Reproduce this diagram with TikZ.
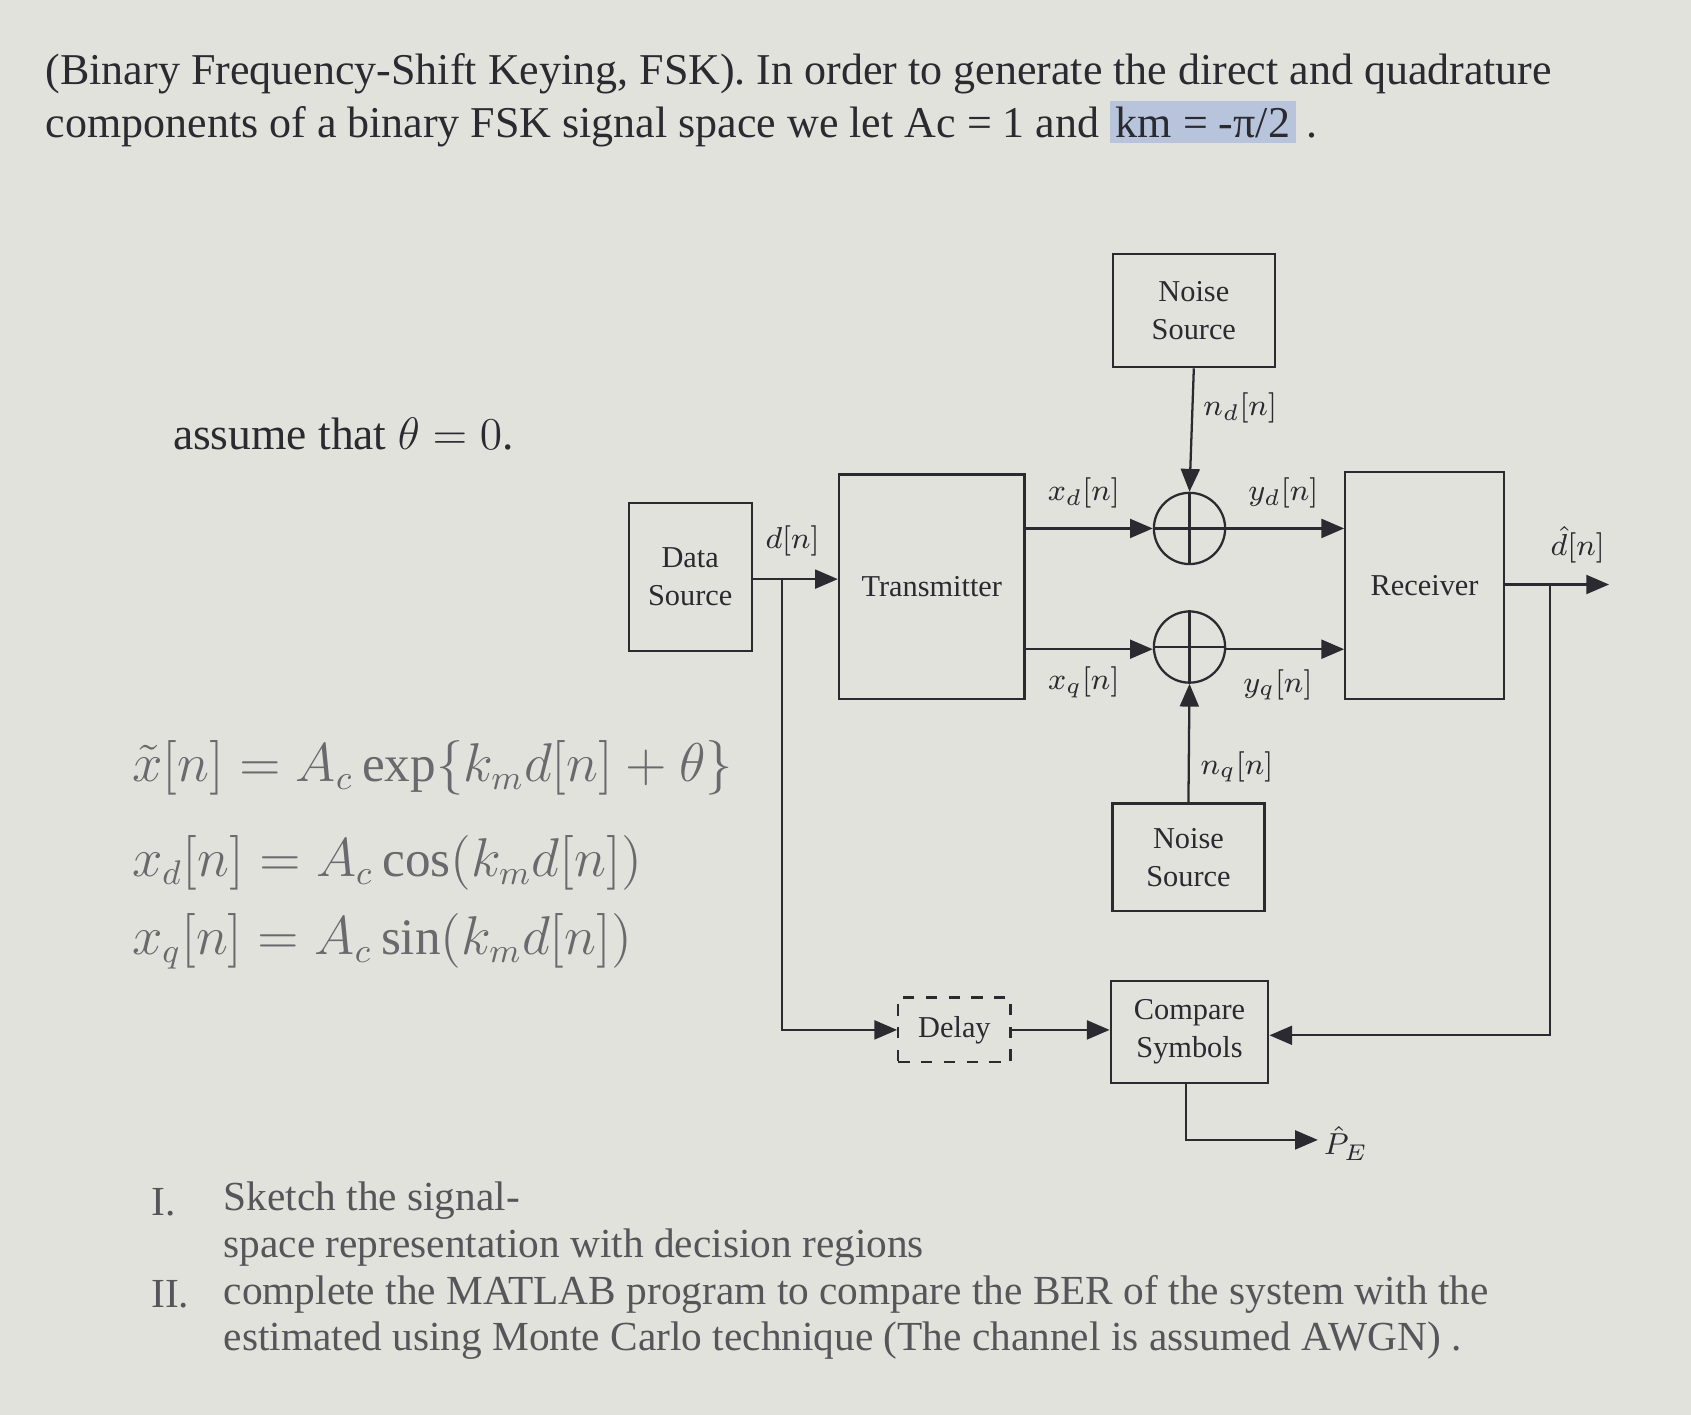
\documentclass[tikz,border=0pt]{standalone}
\usepackage{fontspec}
\setmainfont{Liberation Serif}
\usetikzlibrary{arrows.meta}
\definecolor{bg}{HTML}{E2E2DC}
\definecolor{ink}{HTML}{2A2A30}
\definecolor{hl}{HTML}{B8C4DC}
\begin{document}
\begin{tikzpicture}[x=0.01cm,y=-0.01cm,
  blk/.style={draw=ink,line width=0.6pt,text=ink,align=center,font=\fontsize{8}{10}\selectfont,inner sep=0pt},
  arr/.style={draw=ink,line width=0.6pt,-{Triangle[length=6pt,width=5pt]}},
  ln/.style={draw=ink,line width=0.6pt},
  lab/.style={text=ink,font=\fontsize{8}{10}\selectfont},
  big/.style={text=ink,anchor=west,font=\fontsize{11.6}{14}\selectfont},
  low/.style={text=ink!80,anchor=west,font=\fontsize{10.9}{13}\selectfont},
  eq/.style={text=ink!70,anchor=west,font=\fontsize{13.5}{16}\selectfont}]
\fill[bg] (0,0) rectangle (1568,1312);
\useasboundingbox (0,0) rectangle (1568,1312);
% title
\node[big] (t1) at (30,68) {(Binary Frequency-Shift Keying, FSK). In order to generate the direct and quadrature};
\node[big] (t2) at (30,115) {components of a binary FSK signal space we let Ac = 1 and {\setlength{\fboxsep}{1.5pt}\colorbox{hl}{km = -π/2}} .};
\node[eq,font=\fontsize{12}{14}\selectfont,text=ink] (as) at (148,402) {assume that $\theta = 0$.};
\node[eq] (e1) at (110,712) {$\tilde{x}[n] = A_c \exp\{k_m d[n] + \theta\}$};
\node[eq] (e2) at (110,800) {$x_d[n] = A_c \cos(k_m d[n])$};
\node[eq] (e3) at (110,873) {$x_q[n] = A_c \sin(k_m d[n])$};
% blocks
\node[blk,minimum width=1.50cm,minimum height=1.05cm] (ns1) at (1107,288) {Noise\\Source};
\node[blk,minimum width=1.41cm,minimum height=1.00cm] (ns2) at (1102,795) {Noise\\Source};
\node[blk,minimum width=1.72cm,minimum height=2.08cm] (tx) at (864,544) {Transmitter};
\node[blk,minimum width=1.14cm,minimum height=1.37cm] (ds) at (640,535) {Data\\Source};
\node[blk,minimum width=1.47cm,minimum height=2.10cm] (rx) at (1321,543) {Receiver};
\node[blk,dashed,minimum width=1.04cm,minimum height=0.60cm] (dl) at (885,955) {Delay};
\node[blk,minimum width=1.46cm,minimum height=0.95cm] (cs) at (1103,957) {Compare\\Symbols};
\node[draw=ink,line width=0.6pt,circle,minimum size=0.66cm,inner sep=0pt] (a1) at (1103,490) {};
\node[draw=ink,line width=0.6pt,circle,minimum size=0.66cm,inner sep=0pt] (a2) at (1103,600) {};
\draw[ln] (a1.north)--(a1.south) (a1.west)--(a1.east);
\draw[ln] (a2.north)--(a2.south) (a2.west)--(a2.east);
% connectors
\draw[arr] (ds.east|-0,537) -- (tx.west|-0,537);
\coordinate (br) at (725,537);
\coordinate (br2) at (725,955);
\draw[arr] (br) -- (br2) -- (dl.west);
\draw[arr] (dl.east) -- (cs.west|-dl.east);
\draw[arr] (ns1.south) -- (a1.north);
\draw[arr] (ns2.north) -- (a2.south);
\draw[arr] (tx.east|-a1) -- (a1.west);
\draw[arr] (tx.east|-0,602) -- (a2.west|-0,602);
\draw[arr] (a1.east) -- (rx.west|-a1);
\draw[arr] (a2.east|-0,602) -- (rx.west|-0,602);
\coordinate (out) at (1492,542);
\draw[arr] (rx.east|-out) -- (out);
\coordinate (fb1) at (1437,542);
\coordinate (fb2) at (1437,960);
\draw[arr] (fb1) -- (fb2) -- (cs.east|-fb2);
\coordinate (pb) at (1100,1057);
\coordinate (pe) at (1222,1057);
\draw[arr] (cs.south-|pb) -- (pb) -- (pe);
% labels
\node[lab] (l1) at (1150,378) {$n_d[n]$};
\node[lab] (l2) at (735,502) {$d[n]$};
\node[lab] (l3) at (1005,457) {$x_d[n]$};
\node[lab] (l4) at (1005,633) {$x_q[n]$};
\node[lab] (l5) at (1190,457) {$y_d[n]$};
\node[lab] (l6) at (1185,635) {$y_q[n]$};
\node[lab] (l7) at (1147,711) {$n_q[n]$};
\node[lab] (l8) at (1463,505) {$\hat{d}[n]$};
\node[lab] (l9) at (1248,1060) {$\hat{P}_E$};
% bottom
\node[low] (b0) at (128,1115) {I.};
\node[low] (b1) at (195,1113) {Sketch the signal-};
\node[low] (b2) at (195,1157) {space representation with decision regions};
\node[low] (b3) at (128,1200) {II.};
\node[low] (b4) at (195,1200) {complete the MATLAB program to compare the BER of the system with the};
\node[low] (b5) at (195,1243) {estimated using Monte Carlo technique (The channel is assumed AWGN) .};
\end{tikzpicture}
\end{document}
